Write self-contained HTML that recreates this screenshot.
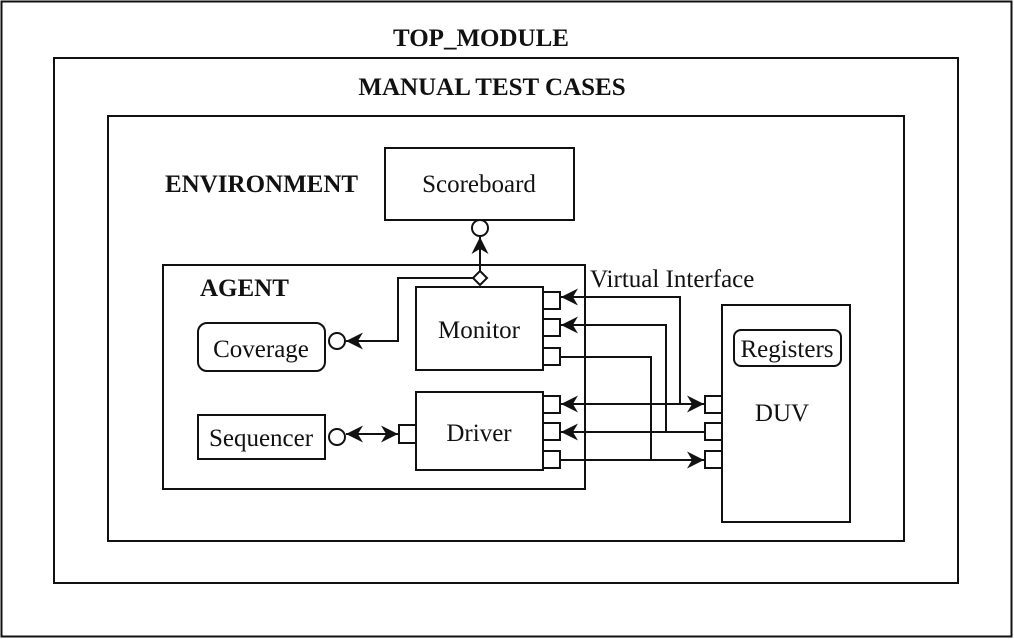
<!DOCTYPE html>
<html><head><meta charset="utf-8"><style>
html,body{margin:0;padding:0;background:#fff}
svg{display:block}
text{font-family:"Liberation Serif",serif;fill:#111}
</style></head><body>
<svg width="1014" height="639" viewBox="0 0 1014 639" xmlns="http://www.w3.org/2000/svg">
<defs>
<marker id="b" viewBox="0 0 10 10" refX="10" refY="5" markerWidth="17" markerHeight="17" markerUnits="userSpaceOnUse" orient="auto-start-reverse">
<path d="M0,0 L10,5 L0,10 L3,5 z" fill="#111"/></marker>
</defs>
<g fill="none" stroke="#111" stroke-width="2">
<rect x="1.5" y="1.5" width="1010" height="635"/>
<rect x="54" y="58" width="904" height="525"/>
<rect x="108" y="116" width="796" height="425"/>
<rect x="385" y="148" width="189" height="72"/>
<rect x="163" y="265" width="422" height="224"/>
<rect x="198" y="323" width="127" height="48" rx="9"/>
<rect x="198" y="415" width="127" height="44"/>
<rect x="416" y="287" width="127" height="83"/>
<rect x="416" y="392" width="127" height="78"/>
<rect x="722" y="305" width="128" height="217"/>
<rect x="734" y="330" width="107" height="36" rx="7"/>
<rect x="543" y="292" width="17" height="17"/>
<rect x="543" y="319" width="17" height="17"/>
<rect x="543" y="348" width="17" height="17"/>
<rect x="543" y="396" width="17" height="17"/>
<rect x="543" y="423" width="17" height="17"/>
<rect x="543" y="451" width="17" height="17"/>
<rect x="399" y="425" width="17" height="18"/>
<rect x="705" y="396" width="17" height="17"/>
<rect x="705" y="423" width="17" height="17"/>
<rect x="705" y="451" width="17" height="17"/>
<circle cx="480" cy="228" r="8"/>
<circle cx="337" cy="341" r="8"/>
<circle cx="337" cy="437" r="8"/>
<line x1="480" y1="271" x2="480" y2="237" marker-end="url(#b)"/>
<polygon points="480,271 487,278 480,285 473,278" fill="#fff"/>
<polyline points="473,278 398,278 398,341 346,341" marker-end="url(#b)"/>
<line x1="346" y1="434" x2="398" y2="434" marker-start="url(#b)" marker-end="url(#b)"/>
<polyline points="680,404 680,297 561,297" marker-end="url(#b)"/>
<polyline points="705,432 666,432 666,325 561,325" marker-end="url(#b)"/>
<polyline points="560,357 651,357 651,460"/>
<line x1="561" y1="404" x2="704" y2="404" marker-start="url(#b)" marker-end="url(#b)"/>
<line x1="705" y1="432" x2="561" y2="432" marker-end="url(#b)"/>
<line x1="560" y1="460" x2="704" y2="460" marker-end="url(#b)"/>
</g>
<g font-weight="bold" font-size="25">
<text x="481" y="46" text-anchor="middle">TOP_MODULE</text>
<text x="492" y="95" text-anchor="middle">MANUAL TEST CASES</text>
<text x="165" y="192">ENVIRONMENT</text>
<text x="200" y="296">AGENT</text>
</g>
<g font-size="25">
<text x="479" y="192" text-anchor="middle">Scoreboard</text>
<text x="590" y="287">Virtual Interface</text>
<text x="261" y="357" text-anchor="middle">Coverage</text>
<text x="261" y="446" text-anchor="middle">Sequencer</text>
<text x="479" y="338" text-anchor="middle">Monitor</text>
<text x="479" y="441" text-anchor="middle">Driver</text>
<text x="787" y="357" text-anchor="middle">Registers</text>
<text x="782" y="421" text-anchor="middle">DUV</text>
</g>
</svg>
</body></html>
